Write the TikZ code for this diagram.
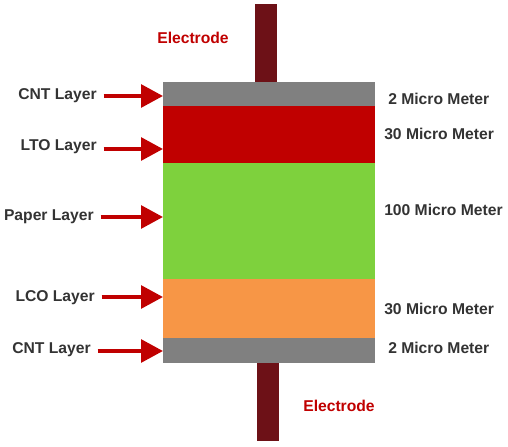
\documentclass[tikz,border=0pt]{standalone}
\usepackage{fontspec}
\setmainfont{Liberation Sans}
\usetikzlibrary{arrows.meta}

\definecolor{cntgray}{HTML}{808080}
\definecolor{ltored}{HTML}{C00000}
\definecolor{papergreen}{HTML}{7ED13D}
\definecolor{lcoorange}{HTML}{F79646}
\definecolor{electrodered}{HTML}{6D1117}
\definecolor{labelgray}{HTML}{333333}

\begin{document}
\begin{tikzpicture}[x=0.75pt,y=-0.75pt,
  every node/.style={font=\fontsize{11.75}{14}\selectfont\bfseries},
  leftlabel/.style={anchor=east,inner sep=0pt,text=labelgray},
  rightlabel/.style={anchor=west,inner sep=0pt,text=labelgray},
  elabel/.style={inner sep=0pt,text=ltored},
  pointer/.style={draw=ltored,line width=3pt,
    -{Triangle[length=16.5pt,width=17pt]},shorten <=5pt}]

  % Margini della figura
  \useasboundingbox (0,0) rectangle (508,447);

  % Bordi della pila
  \def\xl{163} % bordo sinistro
  \def\xr{375} % bordo destro

  % Elettrodi
  \fill[electrodered] (255,4) rectangle (277,82);
  \fill[electrodered] (257,363) rectangle (279,441);

  % Strati
  \fill[cntgray] (\xl,82) rectangle (\xr,106);     % CNT superiore
  \fill[ltored] (\xl,106) rectangle (\xr,163);     % LTO
  \fill[papergreen] (\xl,163) rectangle (\xr,279); % carta
  \fill[lcoorange] (\xl,279) rectangle (\xr,338);  % LCO
  \fill[cntgray] (\xl,338) rectangle (\xr,363);    % CNT inferiore

  % Punte delle frecce
  \coordinate (cnttop) at (\xl,96);
  \coordinate (lto) at (\xl,149);
  \coordinate (paper) at (\xl,217);
  \coordinate (lco) at (\xl,297);
  \coordinate (cntbot) at (\xl,351);

  % Etichette a sinistra
  \node[leftlabel] (cnttoplabel) at (97,96) {CNT Layer};
  \node[leftlabel] (ltolabel) at (97,147) {LTO Layer};
  \node[leftlabel] (paperlabel) at (94,217) {Paper Layer};
  \node[leftlabel] (lcolabel) at (95,298) {LCO Layer};
  \node[leftlabel] (cntbotlabel) at (91,350) {CNT Layer};

  % Frecce
  \draw[pointer] (cnttoplabel.east |- cnttop) -- (cnttop);
  \draw[pointer] (ltolabel.east |- lto) -- (lto);
  \draw[pointer] (paperlabel.east |- paper) -- (paper);
  \draw[pointer] (lcolabel.east |- lco) -- (lco);
  \draw[pointer] (cntbotlabel.east |- cntbot) -- (cntbot);

  % Spessori a destra
  \node[rightlabel] (cnttopsize) at (388,99) {2 Micro Meter};
  \node[rightlabel] (ltosize) at (384,134) {30 Micro Meter};
  \node[rightlabel] (papersize) at (384,210) {100 Micro Meter};
  \node[rightlabel] (lcosize) at (384,309) {30 Micro Meter};
  \node[rightlabel] (cntbotsize) at (388,348) {2 Micro Meter};

  % Etichette degli elettrodi
  \node[elabel] (electrodetop) at (193,38) {Electrode};
  \node[elabel] (electrodebot) at (339,406) {Electrode};

\end{tikzpicture}
\end{document}
